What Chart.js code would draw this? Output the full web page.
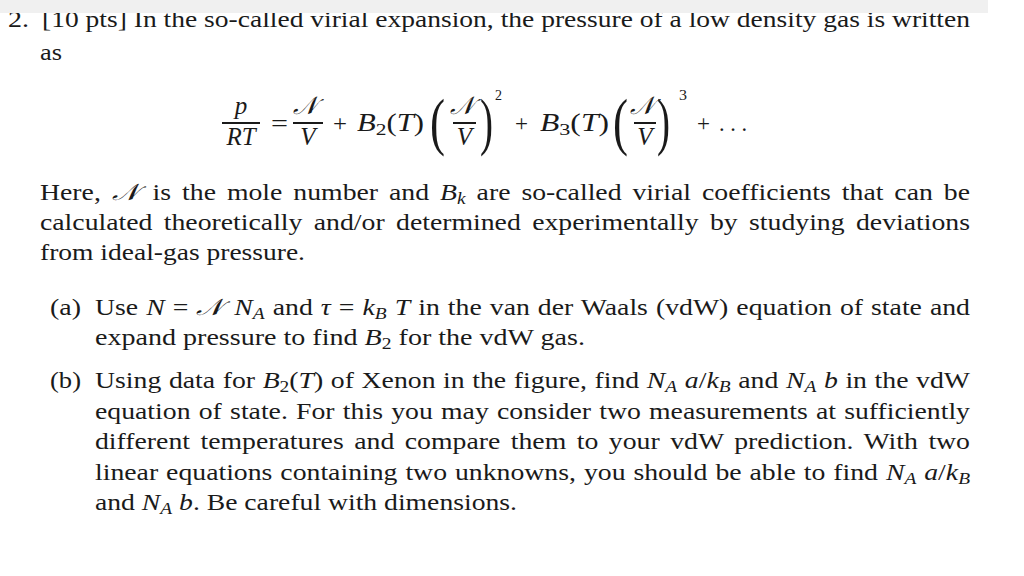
<!DOCTYPE html>
<html><head><meta charset="utf-8">
<script src="https://cdn.jsdelivr.net/npm/chart.js@4.4.1/dist/chart.umd.min.js"></script>
<style>
html,body{margin:0;padding:0;background:#fff;width:1024px;height:576px;overflow:hidden}
#stage{position:absolute;left:0;top:0;width:1024px;height:576px}
#ov{position:absolute;left:0;top:0;width:1024px;height:576px;z-index:10;pointer-events:none}
.ln{position:absolute;left:0;top:0;white-space:nowrap;font-family:"Liberation Serif",serif;font-size:23px;color:#1a1a1a;line-height:1;transform-origin:0 0}
.ln i{font-style:italic}
.sb{font-size:0.7em;position:relative;top:0.22em}
.cal{font-style:italic;font-family:"DejaVu Serif","Liberation Serif",serif;padding-right:0.12em}
.mk{display:inline-block;width:0;height:0;vertical-align:baseline}
.bar{position:absolute;height:1.3px;background:#1a1a1a}
</style></head>
<body>
<div id="stage"></div>
<canvas id="ov" width="1024" height="576"></canvas>
<script>
// ---- text content (real text) ----
const CAL = '<span class="cal">𝒩</span>';
const textLines = [
  '2.',
  '[10 pts] In the so-called virial expansion, the pressure of a low density gas is written',
  'as',
  'Here, ' + CAL + ' is the mole number and <i>B</i><span class="sb"><i>k</i></span> are so-called virial coefficients that can be',
  'calculated theoretically and/or determined experimentally by studying deviations',
  'from ideal-gas pressure.',
  '(a)',
  'Use <i>N</i> = ' + CAL + ' <i>N</i><span class="sb"><i>A</i></span> and <i>τ</i> = <i>k</i><span class="sb"><i>B</i></span> <i>T</i> in the van der Waals (vdW) equation of state and',
  'expand pressure to find <i>B</i><span class="sb">2</span> for the vdW gas.',
  '(b)',
  'Using data for <i>B</i><span class="sb">2</span>(<i>T</i>) of Xenon in the figure, find <i>N</i><span class="sb"><i>A</i></span> <i>a</i>/<i>k</i><span class="sb"><i>B</i></span> and <i>N</i><span class="sb"><i>A</i></span> <i>b</i> in the vdW',
  'equation of state. For this you may consider two measurements at sufficiently',
  'different temperatures and compare them to your vdW prediction. With two',
  'linear equations containing two unknowns, you should be able to find <i>N</i><span class="sb"><i>A</i></span> <i>a</i>/<i>k</i><span class="sb"><i>B</i></span>',
  'and <i>N</i><span class="sb"><i>A</i></span> <i>b</i>. Be careful with dimensions.'
];
// layout: left x, baseline y, right edge, mode (0 = fit width, 1 = justified)
const lineLayout = [
  [8, 27, 29, 0],
  [42, 27, 970, 1],
  [40, 60, 62, 0],
  [40, 200, 970, 1],
  [40, 230, 970, 1],
  [40, 260, 305, 0],
  [50, 315, 81, 0],
  [95, 315, 970, 1],
  [95, 345, 585, 0],
  [50, 388, 81, 0],
  [95, 388, 970, 1],
  [95, 419, 970, 1],
  [95, 449, 970, 1],
  [95, 480, 970, 1],
  [95, 510, 517, 0]
];
const refLines = [5, 8, 14];

// equation pieces: [html, left, baseline, right, fontSize]
const eqPieces = [
  ['=', 271, 131, 288, 23],
  ['+', 333, 131, 347, 23],
  ['<i>B</i><span class="sb">2</span>(<i>T</i>)', 357, 131, 424, 25],
  ['(', 430, 143, 445, 64],
  [')', 480, 143, 493, 64],
  ['2', 495, 100, 502, 15],
  ['+', 515, 131, 528, 23],
  ['<i>B</i><span class="sb">3</span>(<i>T</i>)', 540, 131, 609, 25],
  ['(', 613, 143, 628, 64],
  [')', 657, 143, 670, 64],
  ['3', 679, 100, 687, 15],
  ['+', 697, 131, 710, 23],
  ['. . .', 719, 131, 747, 23]
];
// fractions: [numerator, denominator, barLeft, barRight, barY]
const fracs = [
  ['<i>p</i>', '<i>RT</i>', 222, 260, 123],
  ['<span class="cal" style="padding:0">𝒩</span>', '<i>V</i>', 293, 323, 123],
  ['<span class="cal" style="padding:0">𝒩</span>', '<i>V</i>', 453, 476, 123],
  ['<span class="cal" style="padding:0">𝒩</span>', '<i>V</i>', 634, 656, 123]
];

const stage = document.getElementById('stage');
function makeLine(html, fs){
  const d = document.createElement('div');
  d.className = 'ln';
  d.innerHTML = html + '<span class="mk"></span>';
  if (fs) d.style.fontSize = fs + 'px';
  stage.appendChild(d);
  return d;
}
function baselineOf(d){
  const mk = d.querySelector('.mk');
  return mk.getBoundingClientRect().top - d.getBoundingClientRect().top;
}
function setPos(d, x, b){
  d.style.left = x + 'px';
  d.style.top = (b - baselineOf(d)) + 'px';
}
// natural glyph scale from the ragged (non-justified) lines
const made = textLines.map(t => makeLine(t));
let sSum = 0;
refLines.forEach(i => {
  const L = lineLayout[i];
  sSum += (L[2] - L[0]) / made[i].getBoundingClientRect().width;
});
const s = sSum / refLines.length;

made.forEach((d, i) => {
  const L = lineLayout[i];
  setPos(d, L[0], L[1]);
  const target = L[2] - L[0];
  if (L[3] === 1){
    const w0 = d.getBoundingClientRect().width;
    const n = (d.textContent.match(/ /g) || []).length;
    const ws = Math.max(0, (target / s - w0) / Math.max(n, 1));
    d.style.wordSpacing = ws + 'px';
  }
  const w = d.getBoundingClientRect().width;
  d.style.transform = 'scaleX(' + (target / w) + ')';
});
eqPieces.forEach(p => {
  const d = makeLine(p[0], p[4]);
  setPos(d, p[1], p[2]);
  const w = d.getBoundingClientRect().width;
  d.style.transform = 'scaleX(' + ((p[3] - p[1]) / w) + ')';
});
fracs.forEach((f, k) => {
  const cx = (f[2] + f[3]) / 2;
  const n = makeLine(f[0], 25);
  const nw = n.getBoundingClientRect().width;
  setPos(n, cx - nw / 2 - (k > 0 ? 3 : 0), f[4] - 9);
  const dn = makeLine(f[1], 25);
  const dw = dn.getBoundingClientRect().width;
  setPos(dn, cx - dw / 2, f[4] + 22);
  const bar = document.createElement('div');
  bar.className = 'bar';
  bar.style.left = f[2] + 'px';
  bar.style.width = (f[3] - f[2]) + 'px';
  bar.style.top = (f[4] - 0.6) + 'px';
  stage.appendChild(bar);
});

// Chart.js overlay: draws the grey strip along the top edge of the scan
const bandPlugin = {
  id: 'band',
  beforeDraw(chart){
    const c = chart.ctx;
    c.save();
    c.fillStyle = '#f0f0f0';
    c.fillRect(0, 0, 988, 13);
    c.restore();
  }
};
new Chart(document.getElementById('ov'), {
  type: 'scatter',
  data: { datasets: [] },
  options: {
    responsive: false,
    animation: false,
    events: [],
    plugins: { legend: { display: false }, tooltip: { enabled: false } },
    scales: { x: { display: false }, y: { display: false } }
  },
  plugins: [bandPlugin]
});
</script>
</body></html>
